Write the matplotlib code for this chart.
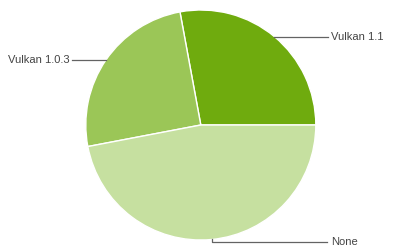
import numpy as np
import matplotlib.pyplot as plt

labels = ['Vulkan 1.1', 'Vulkan 1.0.3', 'None']
shares = [27.9, 25.1, 47.0]
colors = ['#6fab0e', '#9bc657', '#c6e0a0']

plt.rcParams['font.family'] = ['Liberation Sans', 'DejaVu Sans']

fig = plt.figure(figsize=(4, 2.5), dpi=100)
ax = fig.add_axes([0, 0, 1, 1])

cx, cy, r = 200.8, 125, 115
wedges, _ = ax.pie(shares, colors=colors, startangle=0, counterclock=True,
                   center=(cx, cy), radius=r,
                   wedgeprops=dict(edgecolor='white', linewidth=1))
ax.set_xlim(0, 400)
ax.set_ylim(0, 250)
ax.set_aspect('auto')
ax.axis('off')

line_col = '#636363'
text_col = '#444444'
for w, lab in zip(wedges, labels):
    mid = np.deg2rad((w.theta1 + w.theta2) / 2)
    px = cx + r * np.cos(mid)
    py = cy + r * np.sin(mid)
    if py < 20:
        # bottom label: short drop then horizontal
        ly = py - 2.5
        ax.plot([px, px, 327], [py, ly, ly], color=line_col, lw=0.9)
        ax.text(331, ly, lab, ha='left', va='center', fontsize=8, color=text_col)
    elif px > cx:
        ax.plot([px, 328], [py, py], color=line_col, lw=0.9)
        ax.text(331, py, lab, ha='left', va='center', fontsize=8, color=text_col)
    else:
        ax.plot([72, px], [py, py], color=line_col, lw=0.9)
        ax.text(70, py, lab, ha='right', va='center', fontsize=8, color=text_col)

fig.savefig('out.png', dpi=100)
